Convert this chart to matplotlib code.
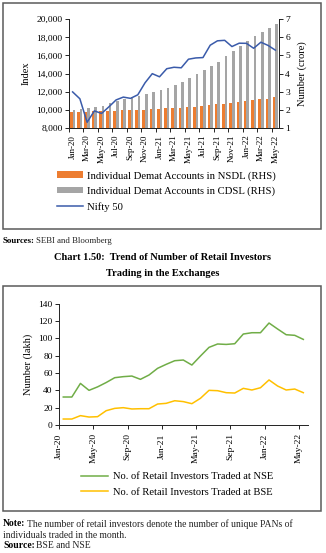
import matplotlib
matplotlib.use("Agg")
import matplotlib.pyplot as plt
import numpy as np
from matplotlib.patches import Rectangle

plt.rcParams['font.family'] = ['Liberation Serif', 'DejaVu Serif']

# ---------------- data ----------------
months = ["Jan-20","Feb-20","Mar-20","Apr-20","May-20","Jun-20","Jul-20","Aug-20","Sep-20","Oct-20",
          "Nov-20","Dec-20","Jan-21","Feb-21","Mar-21","Apr-21","May-21","Jun-21","Jul-21","Aug-21",
          "Sep-21","Oct-21","Nov-21","Dec-21","Jan-22","Feb-22","Mar-22","Apr-22","May-22"]
nsdl = [1.87,1.87,1.89,1.90,1.90,1.92,1.94,1.96,1.98,1.98,2.00,2.02,2.05,2.07,2.11,2.11,2.13,2.16,
        2.20,2.24,2.29,2.31,2.37,2.42,2.48,2.53,2.57,2.60,2.72]
cdsl = [1.98,2.03,2.10,2.14,2.20,2.36,2.47,2.58,2.68,2.77,2.87,2.98,3.06,3.20,3.38,3.53,3.73,3.95,
        4.19,4.41,4.65,4.95,5.24,5.51,5.79,6.09,6.29,6.51,6.73]
nifty = [11962,11202,8598,9860,9580,10302,11073,11388,11248,11642,12969,13982,13635,14529,14691,
         14631,15583,15722,15763,17132,17618,17672,16983,17354,17340,16794,17465,17103,16585]
nse = [32.3,32.3,48.0,40.0,44.0,49.0,54.6,55.8,56.5,52.7,57.7,65.4,70.0,74.2,75.0,69.2,79.6,89.6,
       93.5,93.0,93.8,105.0,106.5,106.5,117.7,110.8,104.2,103.5,98.8]
bse = [6.9,6.9,10.8,9.2,9.6,16.5,19.2,20.0,18.5,18.8,18.8,24.2,25.0,28.0,27.0,24.6,30.8,40.0,
       39.6,37.3,36.9,42.3,40.4,43.0,52.0,45.0,40.4,41.5,37.3]

W, H = 326, 553
fig = plt.figure(figsize=(W/100, H/100), dpi=100)

def fx(x):
    return x / W
def fy(y):
    return 1 - y / H

ORANGE = "#ED7D31"
GREY = "#A5A5A5"
BLUE = "#3A5BAA"
GREEN = "#70AD47"
YELLOW = "#FFC000"
FRAME = "#5a5a5a"

x = np.arange(len(months))

# ---------------- frames ----------------
for (x0, y0, x1, y1) in [(3, 3, 321, 229), (3, 286, 321, 511)]:
    fig.patches.append(Rectangle((fx(x0), fy(y1)), fx(x1) - fx(x0), fy(y0) - fy(y1),
                                 transform=fig.transFigure, fill=False, ec=FRAME, lw=1.1))

# ---------------- top chart ----------------
l, r, t, b = 69, 279, 19.3, 127.7
ax1 = fig.add_axes([fx(l), fy(b), fx(r) - fx(l), fy(t) - fy(b)])
ax2 = ax1.twinx()
bw = 0.36
b1 = ax2.bar(x - bw/2, np.array(nsdl) - 1, bottom=1, width=bw, color=ORANGE,
             label="Individual Demat Accounts in NSDL (RHS)")
b2 = ax2.bar(x + bw/2, np.array(cdsl) - 1, bottom=1, width=bw, color=GREY,
             label="Individual Demat Accounts in CDSL (RHS)")
ln, = ax1.plot(x, nifty, color=BLUE, lw=1.1, label="Nifty 50")
ax1.set_zorder(ax2.get_zorder() + 1)
ax1.patch.set_visible(False)

ax1.set_xlim(-0.5, len(months) - 0.5)
ax1.set_ylim(8000, 20000)
ax1.set_yticks(np.arange(8000, 20001, 2000))
ax1.set_yticklabels([f"{v:,}" for v in range(8000, 20001, 2000)])
ax2.set_ylim(1, 7)
ax2.set_yticks(range(1, 8))
ax1.set_xticks(x[::2])
ax1.set_xticklabels(months[::2], rotation=90)
ax1.set_xticks(np.arange(-0.5, len(months), 2), minor=True)
ax1.tick_params(axis='x', which='major', length=0, labelsize=6.5, pad=5)
ax1.tick_params(axis='x', which='minor', length=3, direction='out', width=0.6)
ax1.tick_params(axis='y', labelsize=6.8, length=3, width=0.6, pad=1.5)
ax2.tick_params(axis='y', labelsize=6.8, length=3, width=0.6, pad=1.5)
for ax in (ax1, ax2):
    ax.spines['top'].set_visible(False)
    for s in ('left', 'right', 'bottom'):
        ax.spines[s].set_linewidth(0.7)
        ax.spines[s].set_color('#222222')
ax1.set_ylabel("Index", fontsize=7.5, labelpad=4)
ax2.set_ylabel("Number (crore)", fontsize=7.5, labelpad=5)

fig.legend(handles=[b1, b2, ln], loc='upper left', bbox_to_anchor=(fx(57), fy(171)),
           frameon=False, fontsize=7.7, handlelength=2.4, handleheight=0.55,
           handletextpad=0.4, labelspacing=0.55, borderaxespad=0, borderpad=0)

# ---------------- texts between ----------------
fig.canvas.draw()
rend = fig.canvas.get_renderer()

def two_part(xp, yp, bold, rest, size):
    t1 = fig.text(fx(xp), fy(yp), bold, fontsize=size, fontweight='bold', va='center', ha='left')
    bb = t1.get_window_extent(renderer=rend)
    fig.text(bb.x1 / W + 1.5 / W, fy(yp), rest, fontsize=size, va='center', ha='left', color='#222222')

two_part(3, 241, "Sources:", "SEBI and Bloomberg", 6.3)
fig.text(0.5, fy(258), "Chart 1.50:  Trend of Number of Retail Investors", fontsize=7.5,
         fontweight='bold', ha='center', va='center')
fig.text(0.5, fy(274), "Trading in the Exchanges", fontsize=7.5,
         fontweight='bold', ha='center', va='center')

# ---------------- bottom chart ----------------
l, r, t, b = 59, 307.6, 303.7, 425
ax3 = fig.add_axes([fx(l), fy(b), fx(r) - fx(l), fy(t) - fy(b)])
ax3.plot(x, nse, color=GREEN, lw=1.1, label="No. of Retail Investors Traded at NSE")
ax3.plot(x, bse, color=YELLOW, lw=1.1, label="No. of Retail Investors Traded at BSE")
ax3.set_xlim(-0.5, len(months) - 0.5)
ax3.set_ylim(0, 140)
ax3.set_yticks(range(0, 141, 20))
ax3.set_xticks(x[::4] - 0.5)
ax3.set_xticklabels(months[::4], rotation=90)
ax3.tick_params(axis='x', labelsize=6.8, length=3, width=0.6, pad=3)
ax3.tick_params(axis='y', labelsize=6.8, length=3, width=0.6, pad=1.5)
ax3.spines['top'].set_visible(False)
ax3.spines['right'].set_visible(False)
for s in ('left', 'bottom'):
    ax3.spines[s].set_linewidth(0.7)
    ax3.spines[s].set_color('#222222')
ax3.set_ylabel("Number (lakh)", fontsize=7.5, labelpad=4)
fig.legend(handles=ax3.get_lines(), loc='upper left', bbox_to_anchor=(fx(81), fy(472)),
           frameon=False, fontsize=7.6, handlelength=2.6, handletextpad=0.4,
           labelspacing=0.55, borderaxespad=0, borderpad=0)

# ---------------- notes ----------------
two_part(3, 524, "Note:", "The number of retail investors denote the number of unique PANs of", 6.9)
fig.text(fx(3), fy(535), "individuals traded in the month.", fontsize=6.9, va='center', ha='left',
         color='#222222')
two_part(3, 546, "Source:", "BSE and NSE", 6.9)

fig.savefig("out.png", dpi=100)
